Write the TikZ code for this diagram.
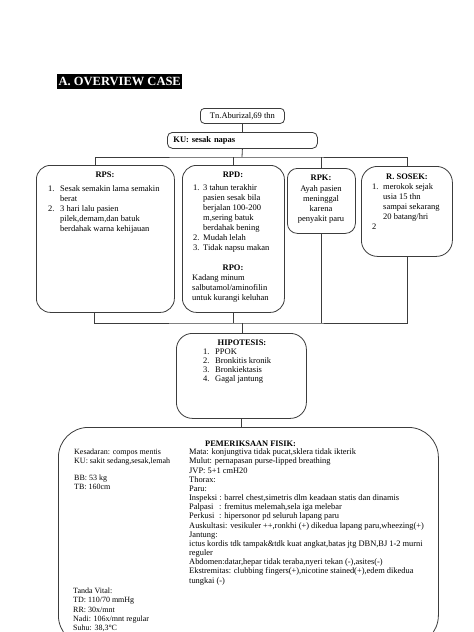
\documentclass[tikz,border=0pt]{standalone}
\usepackage{fontspec}
\setmainfont{Liberation Serif}
\newcommand\fsUp{\fontsize{8.5}{10}\selectfont}
\newcommand\fsHi{\fontsize{8.5}{9}\selectfont}
\newcommand\fsLo{\fontsize{8}{9.17}\selectfont}
\newcommand\fsRt{\fontsize{8.4}{9.17}\selectfont}
\newcommand\numA[1]{\makebox[12pt][l]{#1}}
\newcommand\numB[1]{\makebox[10pt][l]{#1}}
\newcommand\numC[1]{\makebox[11pt][l]{#1}}
\newcommand\indA{\hspace*{12pt}}
\newcommand\indB{\hspace*{10pt}}
\newcommand\indC{\hspace*{11pt}}
\definecolor{linegray}{HTML}{3C3C3C}
\begin{document}
\begin{tikzpicture}[x=1pt,y=-1pt,
  conn/.style={draw=linegray, line width=0.8pt},
  boxs/.style={draw=linegray, line width=0.8pt, anchor=north west, inner sep=0},
  txt/.style={inner sep=0, anchor=north west, align=left, font=\fsUp},
  txtc/.style={inner sep=0, anchor=north, align=center, font=\fsUp},
  txtl/.style={inner sep=0, anchor=north west, align=left, font=\fsLo}]
\useasboundingbox (0,0) rectangle (474,632);
\fill[white] (0,0) rectangle (474,632);
\clip (0,0) rectangle (474,632);

% title
\node[fill=black, text=white, font=\bfseries\fontsize{12.5}{14}\selectfont,
      inner xsep=1.5pt, inner ysep=0pt, minimum height=15pt, anchor=north west] (title) at (57,73.5) {A. OVERVIEW CASE};

% top boxes
\node[boxs, rounded corners=4pt, minimum width=84pt, minimum height=15pt, font=\fsUp] (tn) at (200,108) {Tn.Aburizal,69 thn};
\node[boxs, rounded corners=5pt, minimum width=150pt, minimum height=16pt, text width=138pt, align=left, inner xsep=6pt, font=\fsUp\bfseries] (ku) at (167,132) {KU: sesak napas};

% level boxes
\node[boxs, rounded corners=14pt, minimum width=138pt, minimum height=147pt] (rps) at (36,165) {};
\node[boxs, rounded corners=14pt, minimum width=102pt, minimum height=147pt] (rpd) at (182,165) {};
\node[boxs, rounded corners=10pt, minimum width=68pt, minimum height=65pt] (rpk) at (287,168) {};
\node[boxs, rounded corners=16pt, minimum width=91pt, minimum height=90pt] (sosek) at (361,166) {};
\node[boxs, rounded corners=16pt, minimum width=130pt, minimum height=85pt] (hipo) at (176,333) {};
\node[boxs, rounded corners=30pt, minimum width=380pt, minimum height=218pt] (big) at (58,427) {};

% RPS
\node[txtc] (rpsT) at (105,170.5) {\strut\textbf{RPS:}};
\node[txt] (rpsL) at (48,184) {\strut\numA{1.}Sesak semakin lama semakin\\
\indA berat\\
\numA{2.}3 hari lalu pasien\\
\indA pilek,demam,dan batuk\\
\indA berdahak warna kehijauan};

% RPD
\node[txtc] (rpdT) at (233,170.5) {\strut\textbf{RPD:}};
\node[txt] (rpdL) at (193,183) {\strut\numB{1.}3 tahun terakhir\\
\indB pasien sesak bila\\
\indB berjalan 100-200\\
\indB m,sering batuk\\
\indB berdahak bening\\
\numB{2.}Mudah lelah\\
\numB{3.}Tidak napsu makan};
\node[txtc] (rpoT) at (233,263.5) {\strut\textbf{RPO:}};
\node[txt] (rpoL) at (192,273.5) {\strut Kadang minum\\salbutamol/aminofilin\\untuk kurangi keluhan};

% RPK
\node[txtc] (rpkT) at (321,173.5) {\strut\textbf{RPK:}};
\node[txtc] (rpkL) at (321,184.5) {\strut Ayah pasien\\meninggal\\karena\\penyakit paru};

% SOSEK
\node[txtc] (sosekT) at (407,172.5) {\strut\textbf{R. SOSEK:}};
\node[txt] (sosekL) at (372,182.5) {\strut\numC{1.}merokok sejak\\
\indC usia 15 thn\\
\indC sampai sekarang\\
\indC 20 batang/hri\\
2};

% HIPOTESIS
\node[txtc] (hipoT) at (242,338.5) {\strut\textbf{HIPOTESIS:}};
\node[txt, font=\fsHi] (hipoL) at (203,348.2) {\strut\numA{1.}PPOK\\
\numA{2.}Bronkitis kronik\\
\numA{3.}Bronkiektasis\\
\numA{4.}Gagal jantung};

% big box text
\node[txtl, font=\fsRt] (pfT) at (205,440.1) {\strut\textbf{PEMERIKSAAN FISIK:}};
\node[txtl, font=\fsRt] (pfL) at (189,448.1) {\strut Mata: konjungtiva tidak pucat,sklera tidak ikterik\\
Mulut: pernapasan purse-lipped breathing\\
JVP: 5+1 cmH20\\
Thorax:\\
Paru:\\
Inspeksi : barrel chest,simetris dlm keadaan statis dan dinamis\\
\makebox[30pt][l]{Palpasi}: fremitus melemah,sela iga melebar\\
\makebox[30pt][l]{Perkusi}: hipersonor pd seluruh lapang paru\\
Auskultasi: vesikuler ++,ronkhi (+) dikedua lapang paru,wheezing(+)\\
Jantung:\\
ictus kordis tdk tampak\&tdk kuat angkat,batas jtg DBN,BJ 1-2 murni\\
reguler\\
Abdomen:datar,hepar tidak teraba,nyeri tekan (-),asites(-)\\
Ekstremitas: clubbing fingers(+),nicotine stained(+),edem dikedua\\
tungkai (-)};
\node[txtl] (ksL) at (74,448.1) {\strut Kesadaran: compos mentis\\KU: sakit sedang,sesak,lemah};
\node[txtl] (bbL) at (74,474.1) {\strut BB: 53 kg\\TB: 160cm};
\node[txtl] (tvL) at (73,587.1) {\strut Tanda Vital:\\TD: 110/70 mmHg\\RR: 30x/mnt\\Nadi: 106x/mnt regular\\Suhu: 38,3°C};

% connectors
\coordinate (busT) at (242,157);
\coordinate (busB) at (242,323);
\coordinate (rpsTop) at (95,165);
\coordinate (rpsBot) at (94,312);
\draw[conn] (tn.south) -- (ku.north);
\draw[conn] (ku.south) -- (busT);
\draw[conn] (rpsTop) |- (busT) -| (sosek.north);
\draw[conn] (rpd.north) -- (rpd.north |- busT);
\draw[conn] (rpk.north) -- (rpk.north |- busT);
\draw[conn] (rpsBot) |- (busB) -| (sosek.south);
\draw[conn] (rpd.south) -- (rpd.south |- busB);
\draw[conn] (rpk.south) -- (rpk.south |- busB);
\draw[conn] (busB) -- (busB |- hipo.north);
\draw[conn] (hipo.south) -- (hipo.south |- big.north);
\end{tikzpicture}
\end{document}
